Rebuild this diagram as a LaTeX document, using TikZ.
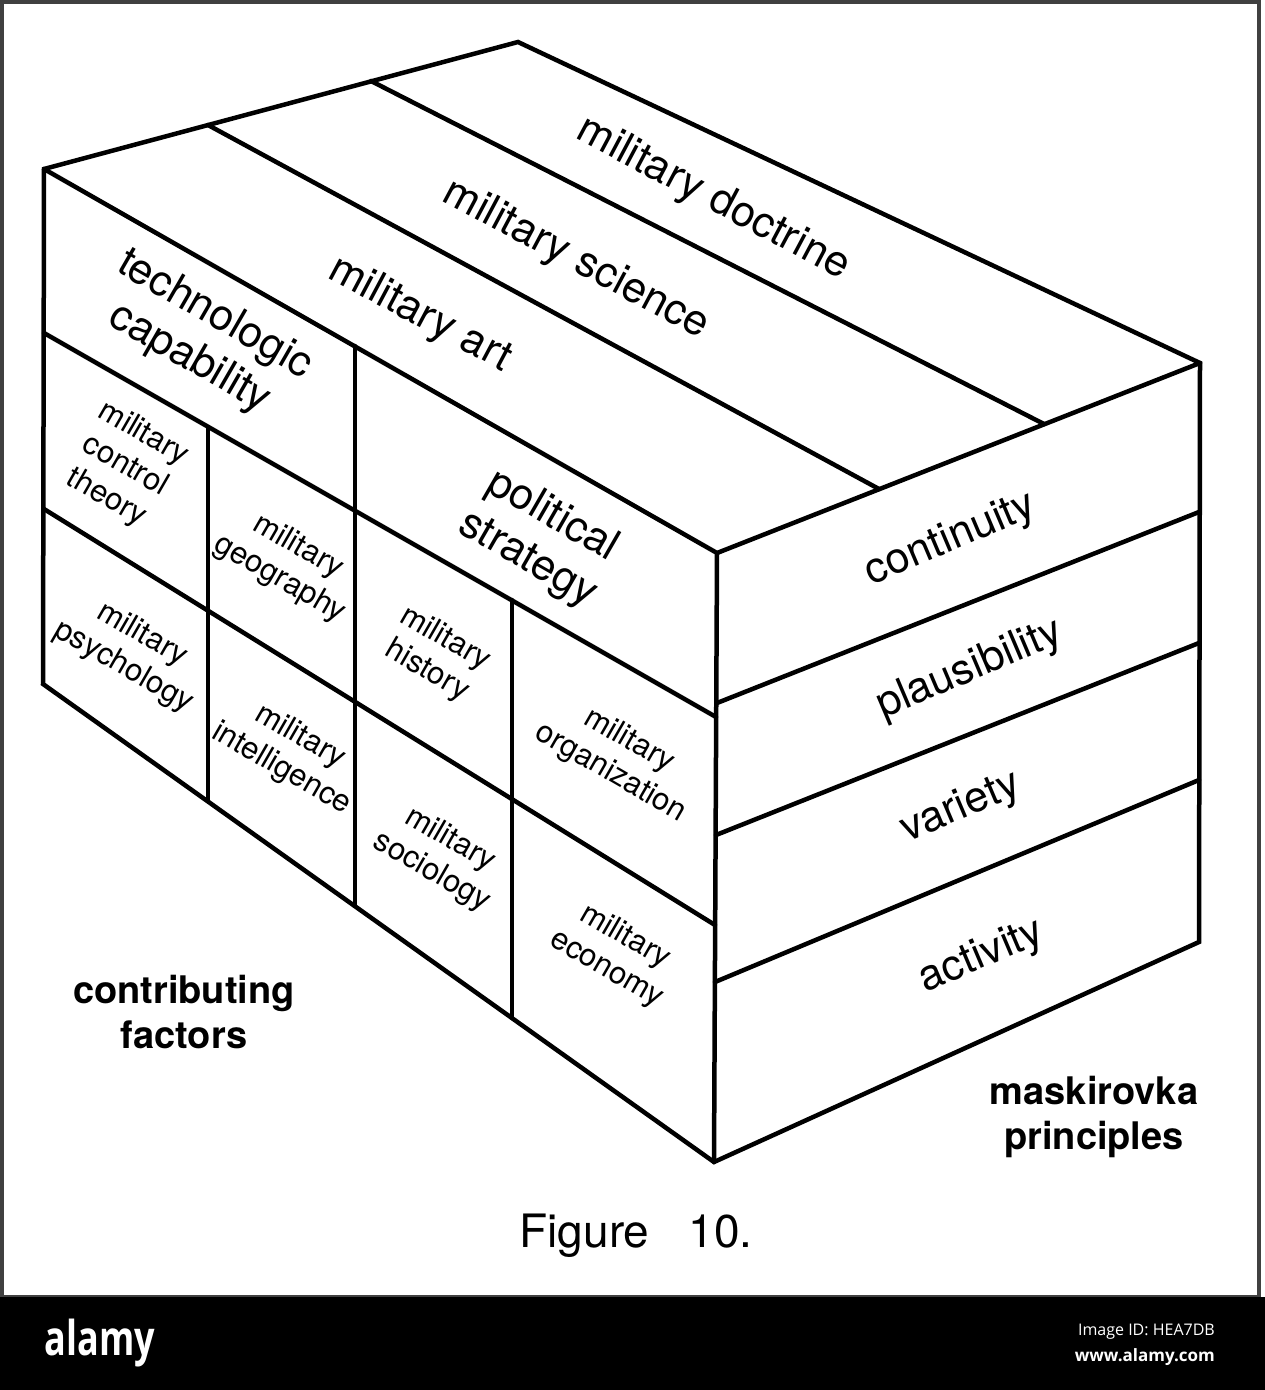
\documentclass[tikz,border=0pt]{standalone}
\usepackage{fontspec}
\setmainfont{TeX Gyre Heros}
\newfontfamily\markfont{Open Sans}
\usepackage{tikz}

\newcommand\bigtxt{\fontsize{43}{50}\selectfont}
\newcommand\smalltxt{\fontsize{31}{37}\selectfont}
\newcommand\sidetxt{\fontsize{38}{45}\selectfont\bfseries}
\newcommand\captxt{\fontsize{46}{52}\selectfont}

\begin{document}
\begin{tikzpicture}[
  x=1pt, y=-1pt,
  rim/.style={line width=4.5pt, line join=miter, line cap=round},
  toplbl/.style={font=\bigtxt, align=center, inner sep=0pt, rotate=-28},
  facelbl/.style={font=\bigtxt, align=center, inner sep=0pt, rotate=-30},
  celllbl/.style={font=\smalltxt, align=center, inner sep=0pt, rotate=-30},
  endlbl/.style={font=\bigtxt, align=center, inner sep=0pt, rotate=23},
  axislbl/.style={font=\sidetxt, align=center, inner sep=0pt}
]
\useasboundingbox (0,0) rectangle (1265,1390);

% frame and bottom band
\draw[black!75, line width=4pt] (2,2) rectangle (1259,1297);
\fill[black] (0,1297) rectangle (1265,1390);

% box corners
\coordinate (tl) at (44,169);
\coordinate (tb) at (518,42);
\coordinate (tr) at (1200,363);
\coordinate (tf) at (717,553);
\coordinate (bl) at (43,684);
\coordinate (bf) at (714,1162);
\coordinate (br) at (1199,942);

% outline
\draw[rim] (tl) -- (tb) -- (tr) -- (br) -- (bf) -- (bl) -- cycle;
\draw[rim] (tl) -- (tf) -- (tr);
\draw[rim] (tf) -- (bf);

% top face strips
\coordinate (s1a) at (208,125);  \coordinate (s1b) at (879,489);
\coordinate (s2a) at (371,81);   \coordinate (s2b) at (1044,424);
\draw[rim] (s1a) -- (s1b);
\draw[rim] (s2a) -- (s2b);

% long face grid
\coordinate (la1) at (44,333);   \coordinate (la2) at (716,717);
\coordinate (lb1) at (44,509);   \coordinate (lb2) at (715,925);
\coordinate (v1t) at (208,427);  \coordinate (v1b) at (208,801);
\coordinate (v2t) at (355,346);  \coordinate (v2b) at (355,906);
\coordinate (v3t) at (512,600);  \coordinate (v3b) at (512,1018);
\draw[rim] (la1) -- (la2);
\draw[rim] (lb1) -- (lb2);
\draw[rim] (v1t) -- (v1b);
\draw[rim] (v2t) -- (v2b);
\draw[rim] (v3t) -- (v3b);

% end face strips
\coordinate (r1a) at (717,703);  \coordinate (r1b) at (1199,512);
\coordinate (r2a) at (716,835);  \coordinate (r2b) at (1199,643);
\coordinate (r3a) at (715,982);  \coordinate (r3b) at (1199,780);
\draw[rim] (r1a) -- (r1b);
\draw[rim] (r2a) -- (r2b);
\draw[rim] (r3a) -- (r3b);

% top face labels
\node[toplbl] (doctrine) at (713,199) {military doctrine};
\node[toplbl] (science) at (576,260) {military science};
\node[toplbl] (art) at (420,315) {military art};

% long face labels
\node[facelbl] (techcap) at (202,337) {technologic\\capability};
\node[facelbl] (polstrat) at (540,538) {political\\strategy};
\node[celllbl] (control) at (125,466) {military\\control\\theory};
\node[celllbl] (geography) at (289,563) {military\\geography};
\node[celllbl] (psychology) at (133,651) {military\\psychology};
\node[celllbl] (intelligence) at (291,753) {military\\intelligence};
\node[celllbl] (history) at (436,655) {military\\history};
\node[celllbl] (sociology) at (441,856) {military\\sociology};
\node[celllbl] (organization) at (620,757) {military\\organization};
\node[celllbl] (economy) at (616,953) {military\\economy};

% end face labels
\node[endlbl] (continuity) at (951,540) {continuity};
\node[endlbl] (plausibility) at (970,670) {plausibility};
\node[endlbl] (variety) at (961,808) {variety};
\node[endlbl] (activity) at (982,957) {activity};

% axis captions
\node[axislbl] (factors) at (184,1012) {contributing\\factors};
\node[axislbl] (principles) at (1094,1117) {maskirovka\\principles};
\node[font=\captxt, inner sep=0pt] (figcap) at (636,1236) {Figure\hspace{0.85em}10.};

% band texts
\node[white, font=\markfont\fontsize{48}{52}\selectfont\bfseries, inner sep=0pt] (mark) at (100,1343) {\scalebox{0.75}[1]{alamy}};
\node[white, font=\markfont\fontsize{16}{18}\selectfont, anchor=east, inner sep=0pt] (imgid) at (1215,1332) {Image ID: HEA7DB};
\node[white, font=\markfont\fontsize{17}{19}\selectfont\bfseries, anchor=east, inner sep=0pt] (site) at (1215,1357) {www.alamy.com};
\end{tikzpicture}
\end{document}
